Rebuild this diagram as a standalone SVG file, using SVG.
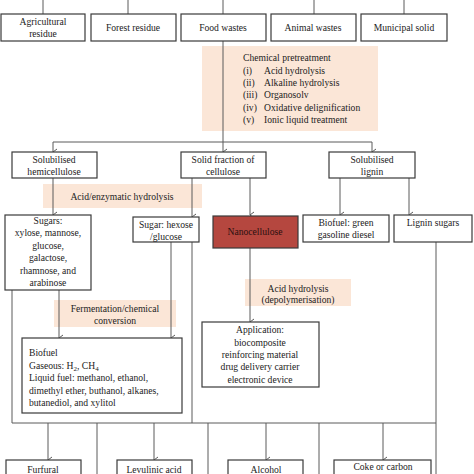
<svg xmlns="http://www.w3.org/2000/svg" width="474" height="474" viewBox="0 0 474 474">
<style>
.box{fill:#fff;stroke:#3a3a3a;stroke-width:1.2}
.lab{fill:#fbe6d7;stroke:none}
.red{fill:#b5473f;stroke:#3a3a3a;stroke-width:1.2}
.ln{fill:none;stroke:#5a5a5a;stroke-width:1}
.ar{fill:none;stroke:#5a5a5a;stroke-width:1;marker-end:url(#ah)}
text{font-family:"Liberation Serif","Times New Roman",serif;font-size:9.6px;fill:#222}
.c{text-anchor:middle}
</style>
<defs>
<marker id="ah" markerWidth="8" markerHeight="8" refX="4" refY="7" orient="auto-start-reverse" markerUnits="userSpaceOnUse" viewBox="0 0 8 8">
<polyline points="1,3 4,7 7,3" fill="none" stroke="#5a5a5a" stroke-width="1"/>
</marker>
</defs>
<rect width="474" height="474" fill="#fff"/>
<g id="labels">
<rect class="lab" x="202" y="46" width="176" height="85"/>
<rect class="lab" x="43" y="184" width="159" height="24"/>
<rect class="lab" x="54" y="300" width="122" height="27"/>
<rect class="lab" x="245" y="279" width="106" height="27"/>
</g>
<g id="connectors">
<line class="ln" x1="43" y1="0" x2="43" y2="14"/>
<line class="ln" x1="128" y1="0" x2="128" y2="14"/>
<line class="ln" x1="223" y1="0" x2="223" y2="14"/>
<line class="ln" x1="314" y1="0" x2="314" y2="14"/>
<line class="ln" x1="404" y1="0" x2="404" y2="14"/>
<line class="ln" x1="223" y1="41" x2="223" y2="142"/>
<line class="ln" x1="53" y1="142" x2="372" y2="142"/>
<line class="ar" x1="53" y1="142" x2="53" y2="152"/>
<line class="ar" x1="223" y1="142" x2="223" y2="152"/>
<line class="ar" x1="372" y1="142" x2="372" y2="152"/>
<line class="ar" x1="53" y1="178" x2="53" y2="215"/>
<line class="ar" x1="192" y1="178" x2="192" y2="217"/>
<line class="ar" x1="250" y1="178" x2="250" y2="215"/>
<line class="ar" x1="340" y1="178" x2="340" y2="215"/>
<line class="ar" x1="409" y1="178" x2="409" y2="215"/>
<line class="ar" x1="59" y1="290" x2="59" y2="338"/>
<line class="ar" x1="171" y1="242" x2="171" y2="338"/>
<line class="ar" x1="250" y1="248" x2="250" y2="322"/>
<line class="ln" x1="12" y1="290" x2="12" y2="423"/>
<line class="ln" x1="192" y1="242" x2="192" y2="423"/>
<line class="ln" x1="436" y1="242" x2="436" y2="474"/>
<line class="ln" x1="12" y1="423" x2="436" y2="423"/>
<line class="ln" x1="97" y1="423" x2="97" y2="474"/>
<line class="ln" x1="208" y1="423" x2="208" y2="474"/>
<line class="ln" x1="319" y1="423" x2="319" y2="474"/>
<line class="ar" x1="48" y1="423" x2="48" y2="460"/>
<line class="ar" x1="154" y1="423" x2="154" y2="460"/>
<line class="ar" x1="266" y1="423" x2="266" y2="460"/>
<line class="ar" x1="383" y1="423" x2="383" y2="460"/>
</g>
<g id="label-text">
<text x="243" y="61">Chemical  pretreatment</text>
<text x="243" y="74">(i)</text><text x="264" y="74">Acid hydrolysis</text>
<text x="243" y="86">(ii)</text><text x="264" y="86">Alkaline hydrolysis</text>
<text x="243" y="98">(iii)</text><text x="264" y="98">Organosolv</text>
<text x="243" y="111">(iv)</text><text x="264" y="111">Oxidative delignification</text>
<text x="243" y="123">(v)</text><text x="264" y="123">Ionic liquid treatment</text>
<text class="c" x="122" y="200">Acid/enzymatic hydrolysis</text>
<text class="c" x="115" y="312">Fermentation/chemical</text>
<text class="c" x="115" y="324">conversion</text>
<text class="c" x="298" y="292">Acid hydrolysis</text>
<text class="c" x="298" y="303">(depolymerisation)</text>
</g>
<g id="agricultural"><rect class="box" x="1" y="14" width="84" height="27"/><text class="c" x="43" y="25">Agricultural</text><text class="c" x="43" y="37">residue</text></g>
<g id="forest"><rect class="box" x="91" y="14" width="85" height="27"/><text class="c" x="133" y="31">Forest residue</text></g>
<g id="food"><rect class="box" x="181" y="14" width="85" height="27"/><text class="c" x="223" y="31">Food wastes</text></g>
<g id="animal"><rect class="box" x="271" y="14" width="85" height="27"/><text class="c" x="313" y="31">Animal wastes</text></g>
<g id="municipal"><rect class="box" x="361" y="14" width="86" height="27"/><text class="c" x="404" y="31">Municipal solid</text></g>
<g id="hemicellulose"><rect class="box" x="12" y="152" width="85" height="26"/><text class="c" x="54" y="163">Solubilised</text><text class="c" x="54" y="175">hemicellulose</text></g>
<g id="solid"><rect class="box" x="181" y="152" width="85" height="26"/><text class="c" x="223" y="163">Solid fraction of</text><text class="c" x="223" y="175">cellulose</text></g>
<g id="lignin"><rect class="box" x="329" y="152" width="86" height="26"/><text class="c" x="372" y="163">Solubilised</text><text class="c" x="372" y="175">lignin</text></g>
<g id="sugars"><rect class="box" x="5" y="215" width="86" height="75"/>
<text class="c" x="48" y="224">Sugars:</text><text class="c" x="48" y="236">xylose, mannose,</text><text class="c" x="48" y="249">glucose,</text><text class="c" x="48" y="261">galactose,</text><text class="c" x="48" y="274">rhamnose, and</text><text class="c" x="48" y="286">arabinose</text></g>
<g id="hexose"><rect class="box" x="133" y="217" width="66" height="25"/><text class="c" x="166" y="228">Sugar: hexose</text><text class="c" x="166" y="240">/glucose</text></g>
<g id="nanocellulose"><rect class="red" x="213" y="216" width="85" height="32"/><text class="c" x="255" y="235" style="fill:#2a1010">Nanocellulose</text></g>
<g id="biofuel-green"><rect class="box" x="303" y="215" width="86" height="27"/><text class="c" x="346" y="226">Biofuel: green</text><text class="c" x="346" y="238">gasoline diesel</text></g>
<g id="lignin-sugars"><rect class="box" x="394" y="215" width="78" height="27"/><text class="c" x="433" y="226">Lignin sugars</text></g>
<g id="biofuel"><rect class="box" x="22" y="338" width="160" height="75"/>
<text x="29" y="356">Biofuel</text>
<text x="29" y="369">Gaseous: H<tspan font-size="7" dy="2">2</tspan><tspan dy="-2">, CH</tspan><tspan font-size="7" dy="2">4</tspan></text>
<text x="29" y="381">Liquid fuel: methanol, ethanol,</text>
<text x="29" y="394">dimethyl ether, buthanol, alkanes,</text>
<text x="29" y="406">butanediol, and xylitol</text></g>
<g id="application"><rect class="box" x="202" y="322" width="117" height="65"/>
<text class="c" x="260" y="333">Application:</text><text class="c" x="260" y="346">biocomposite</text><text class="c" x="260" y="358">reinforcing material</text><text class="c" x="260" y="370">drug delivery carrier</text><text class="c" x="260" y="383">electronic device</text></g>
<g id="furfural"><rect class="box" x="6" y="460" width="75" height="20"/><text class="c" x="43" y="472.5">Furfural</text></g>
<g id="levulinic"><rect class="box" x="117" y="460" width="75" height="20"/><text class="c" x="154" y="472.5">Levulinic acid</text></g>
<g id="alcohol"><rect class="box" x="228" y="460" width="75" height="20"/><text class="c" x="266" y="472.5">Alcohol</text></g>
<g id="coke"><rect class="box" x="334" y="460" width="97" height="20"/><text class="c" x="383" y="470">Coke or carbon</text></g>
</svg>
